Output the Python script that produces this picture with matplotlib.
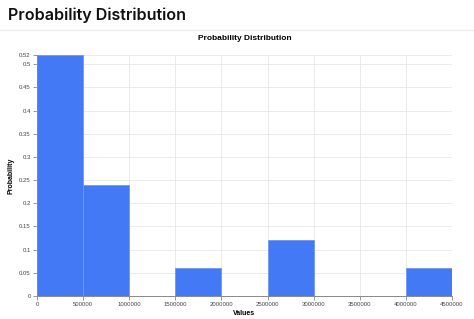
import matplotlib
matplotlib.use("Agg")
import matplotlib.pyplot as plt
import numpy as np

bin_edges = [0, 500000, 1000000, 1500000, 2000000, 2500000, 3000000, 3500000, 4000000, 4500000]
probabilities = [0.52, 0.24, 0.0, 0.06, 0.0, 0.12, 0.0, 0.0, 0.06]
x_ticks = [0, 500000, 1000000, 1500000, 2000000, 2500000, 3000000, 3500000, 4000000, 4500000]
y_ticks = [0, 0.05, 0.1, 0.15, 0.2, 0.25, 0.3, 0.35, 0.4, 0.45, 0.5, 0.52]
y_tick_labels = ["0", "0.05", "0.1", "0.15", "0.2", "0.25", "0.3", "0.35", "0.4", "0.45", "0.5", "0.52"]

plt.rcParams['font.family'] = ['Liberation Sans', 'DejaVu Sans']

W, H = 474, 319
fig = plt.figure(figsize=(W / 100, H / 100), dpi=100)

fig.text(8 / W, 1 - 15 / H, "Probability Distribution", fontsize=11.6, ha="left", va="center",
         color="#111111", family=["Inter", "Liberation Sans"], fontweight="semibold")
fig.add_artist(plt.Line2D([0, 1], [1 - 30 / H, 1 - 30 / H], color="#eeeeee", lw=1))

ax = fig.add_axes([37 / W, 1 - 296 / H, (452 - 37) / W, (296 - 55) / H])
lefts = np.array(bin_edges[:-1])
widths = np.diff(bin_edges)
ax.bar(lefts, probabilities, width=widths, align="edge", color="#4479f6",
       edgecolor="#6f97f5", linewidth=0.6, zorder=2)

ax.set_xlim(0, 4500000)
ax.set_ylim(0, 0.52)
ax.set_xticks(x_ticks)
ax.set_xticklabels([str(v) for v in x_ticks], fontsize=4.3, color="#444444")
ax.set_yticks(y_ticks)
ax.set_yticklabels(y_tick_labels, fontsize=4.3, color="#444444")
ax.grid(True, color="#e8e8e8", linewidth=0.6, zorder=0)
ax.set_axisbelow(True)
for s in ["top", "right"]:
    ax.spines[s].set_visible(False)
for s in ["left", "bottom"]:
    ax.spines[s].set_color("#888888")
    ax.spines[s].set_linewidth(0.7)
ax.tick_params(length=3, width=0.6, color="#888888", pad=1.5)
ax.set_xlabel("Values", fontsize=5, fontweight="bold", labelpad=2)
ax.set_ylabel("Probability", fontsize=5, fontweight="bold", labelpad=3)
fig.text((37 + 452) / 2 / W, 1 - 39 / H, "Probability Distribution", fontsize=6, fontweight="bold",
         ha="center", va="center")

fig.savefig("out.png", dpi=100)
